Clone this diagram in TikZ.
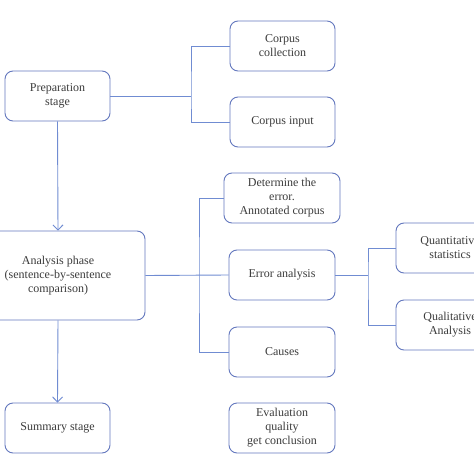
\documentclass[tikz,border=0pt]{standalone}
\usepackage{fontspec}
\setmainfont{Liberation Serif}
\usetikzlibrary{arrows.meta}
\definecolor{linec}{RGB}{112,140,210}
\definecolor{boxc}{RGB}{100,120,190}
\definecolor{textc}{RGB}{60,60,60}
\tikzset{
  box/.style={draw=boxc, line width=0.9pt, rounded corners=8pt, align=center,
    text=textc, font=\fontsize{12}{14}\selectfont, inner sep=0pt},
  conn/.style={draw=linec, line width=0.9pt},
  arr/.style={conn, -{Straight Barb[length=5pt,width=10pt]}}
}
\begin{document}
\begin{tikzpicture}[x=1pt,y=-1pt]
\useasboundingbox (0,0) rectangle (474,474);
\clip (0,0) rectangle (474,474);
\fill[white] (0,0) rectangle (474,474);
\node[box, minimum width=105pt, minimum height=50pt] (prep) at (57.5,96) {Preparation\\stage};
\node[box, minimum width=105pt, minimum height=50pt] (cc) at (282.5,46) {Corpus\\collection};
\node[box, minimum width=105pt, minimum height=50pt] (ci) at (282.5,122) {Corpus input};
\node[box, minimum width=116pt, minimum height=50pt] (det) at (282,198) {Determine the\\error.\\Annotated corpus};
\node[box, minimum width=106pt, minimum height=50pt] (ea) at (282,275) {Error analysis};
\node[box, minimum width=106pt, minimum height=50pt] (causes) at (282,352) {Causes};
\node[box, minimum width=106pt, minimum height=50pt] (eval) at (282,428) {Evaluation\\quality\\get conclusion};
\node[box, minimum width=174pt, minimum height=89pt] (ana) at (58,275.5) {Analysis phase\\(sentence-by-sentence\\comparison)};
\node[box, minimum width=105pt, minimum height=50pt] (sum) at (57.5,428) {Summary stage};
\node[box, minimum width=108pt, minimum height=50pt] (quant) at (450,248) {Quantitative\\statistics};
\node[box, minimum width=108pt, minimum height=50pt] (qual) at (450,325) {Qualitative\\Analysis};
\coordinate (b1) at (191,96);
\coordinate (b2) at (199,275);
\coordinate (b3) at (368,275);
\draw[conn] (prep.east) -- (b1);
\draw[conn] (cc.west) -| (b1) |- (ci.west);
\draw[conn] (ana.east) -- (ea.west);
\draw[conn] (det.west) -| (b2) |- (causes.west);
\draw[conn] (ea.east) -- (b3);
\draw[conn] (quant.west) -| (b3) |- (qual.west);
\draw[arr] (prep.south) -- (ana.north);
\draw[arr] (ana.south) -- (sum.north);
\end{tikzpicture}
\end{document}
